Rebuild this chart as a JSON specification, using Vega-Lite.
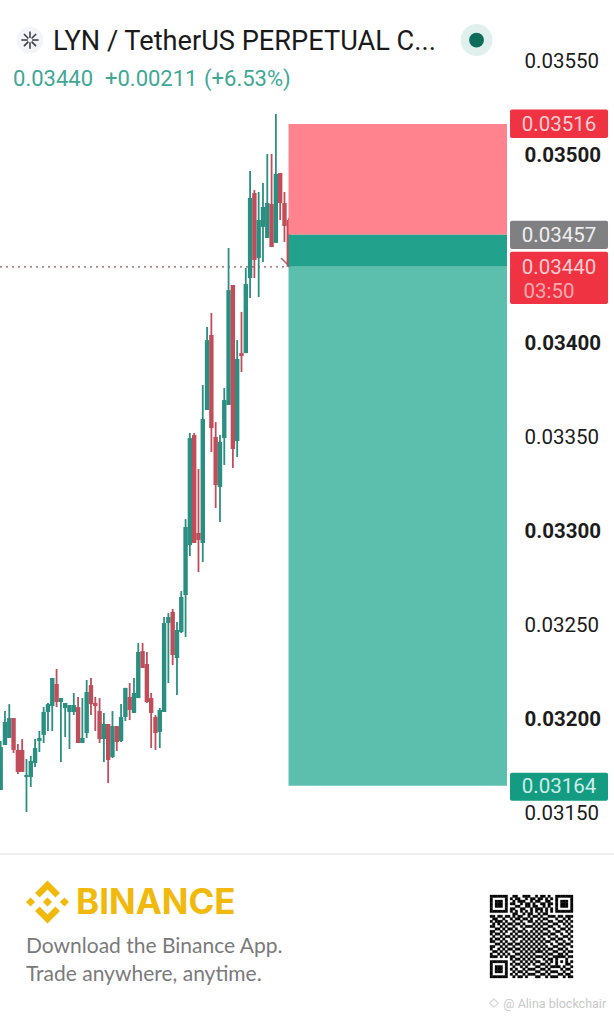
{
"$schema":"https://vega.github.io/schema/vega-lite/v6.json",
"width":614,"height":1019,"padding":0,"autosize":{"type":"none"},"background":"white",
"config":{"view":{"stroke":null}},
"datasets":{"candles":[
{"t":0,"o":0.031617,"h":0.031878,"l":0.031617,"c":0.031846,"dir":"up"},
{"t":1,"o":0.031856,"h":0.032037,"l":0.031856,"c":0.031979,"dir":"up"},
{"t":2,"o":0.031894,"h":0.032074,"l":0.031894,"c":0.032000,"dir":"up"},
{"t":3,"o":0.032000,"h":0.032000,"l":0.031814,"c":0.031830,"dir":"down"},
{"t":4,"o":0.031830,"h":0.031862,"l":0.031702,"c":0.031713,"dir":"down"},
{"t":5,"o":0.031830,"h":0.031888,"l":0.031713,"c":0.031713,"dir":"down"},
{"t":6,"o":0.031686,"h":0.031782,"l":0.031500,"c":0.031697,"dir":"up"},
{"t":7,"o":0.031686,"h":0.031798,"l":0.031633,"c":0.031771,"dir":"up"},
{"t":8,"o":0.031761,"h":0.031888,"l":0.031739,"c":0.031840,"dir":"up"},
{"t":9,"o":0.031878,"h":0.031931,"l":0.031819,"c":0.031894,"dir":"up"},
{"t":10,"o":0.031910,"h":0.032058,"l":0.031867,"c":0.032032,"dir":"up"},
{"t":11,"o":0.032032,"h":0.032080,"l":0.031931,"c":0.032074,"dir":"up"},
{"t":12,"o":0.032064,"h":0.032213,"l":0.031931,"c":0.032213,"dir":"up"},
{"t":13,"o":0.032181,"h":0.032261,"l":0.032058,"c":0.032085,"dir":"down"},
{"t":14,"o":0.032085,"h":0.032106,"l":0.031766,"c":0.032106,"dir":"up"},
{"t":15,"o":0.032053,"h":0.032080,"l":0.031899,"c":0.032080,"dir":"up"},
{"t":16,"o":0.032032,"h":0.032069,"l":0.031835,"c":0.032069,"dir":"up"},
{"t":17,"o":0.032032,"h":0.032133,"l":0.032016,"c":0.032069,"dir":"up"},
{"t":18,"o":0.032058,"h":0.032112,"l":0.031867,"c":0.031867,"dir":"down"},
{"t":19,"o":0.031867,"h":0.032106,"l":0.031867,"c":0.031894,"dir":"up"},
{"t":20,"o":0.031920,"h":0.032202,"l":0.031894,"c":0.032138,"dir":"up"},
{"t":21,"o":0.032175,"h":0.032213,"l":0.032016,"c":0.032074,"dir":"down"},
{"t":22,"o":0.032080,"h":0.032112,"l":0.031931,"c":0.032064,"dir":"down"},
{"t":23,"o":0.032037,"h":0.032106,"l":0.031867,"c":0.031888,"dir":"down"},
{"t":24,"o":0.031888,"h":0.032027,"l":0.031766,"c":0.031968,"dir":"up"},
{"t":25,"o":0.031968,"h":0.031968,"l":0.031654,"c":0.031777,"dir":"down"},
{"t":26,"o":0.031793,"h":0.032037,"l":0.031787,"c":0.031957,"dir":"up"},
{"t":27,"o":0.031957,"h":0.031957,"l":0.031825,"c":0.031872,"dir":"down"},
{"t":28,"o":0.031878,"h":0.032074,"l":0.031872,"c":0.032005,"dir":"up"},
{"t":29,"o":0.032005,"h":0.032160,"l":0.031984,"c":0.032160,"dir":"up"},
{"t":30,"o":0.032112,"h":0.032186,"l":0.031989,"c":0.032043,"dir":"down"},
{"t":31,"o":0.032027,"h":0.032213,"l":0.032027,"c":0.032133,"dir":"up"},
{"t":32,"o":0.032106,"h":0.032399,"l":0.032106,"c":0.032351,"dir":"up"},
{"t":33,"o":0.032356,"h":0.032399,"l":0.032266,"c":0.032266,"dir":"down"},
{"t":34,"o":0.032287,"h":0.032351,"l":0.032080,"c":0.032085,"dir":"down"},
{"t":35,"o":0.032106,"h":0.032133,"l":0.031840,"c":0.032027,"dir":"down"},
{"t":36,"o":0.032005,"h":0.032016,"l":0.031830,"c":0.031920,"dir":"down"},
{"t":37,"o":0.031926,"h":0.032053,"l":0.031840,"c":0.032043,"dir":"up"},
{"t":38,"o":0.032032,"h":0.032537,"l":0.032032,"c":0.032505,"dir":"up"},
{"t":39,"o":0.032505,"h":0.032558,"l":0.032186,"c":0.032537,"dir":"up"},
{"t":40,"o":0.032564,"h":0.032580,"l":0.032282,"c":0.032335,"dir":"down"},
{"t":41,"o":0.032319,"h":0.032511,"l":0.032122,"c":0.032468,"dir":"up"},
{"t":42,"o":0.032457,"h":0.032675,"l":0.032452,"c":0.032644,"dir":"up"},
{"t":43,"o":0.032654,"h":0.033058,"l":0.032431,"c":0.033016,"dir":"up"},
{"t":44,"o":0.032920,"h":0.033516,"l":0.032862,"c":0.033489,"dir":"up"},
{"t":45,"o":0.033505,"h":0.033516,"l":0.032931,"c":0.032931,"dir":"down"},
{"t":46,"o":0.032984,"h":0.033324,"l":0.032776,"c":0.032947,"dir":"down"},
{"t":47,"o":0.032931,"h":0.033771,"l":0.032830,"c":0.033590,"dir":"up"},
{"t":48,"o":0.033638,"h":0.034080,"l":0.033638,"c":0.034010,"dir":"up"},
{"t":49,"o":0.034037,"h":0.034154,"l":0.033415,"c":0.033542,"dir":"down"},
{"t":50,"o":0.033495,"h":0.033574,"l":0.033117,"c":0.033239,"dir":"down"},
{"t":51,"o":0.033229,"h":0.033505,"l":0.033042,"c":0.033468,"dir":"up"},
{"t":52,"o":0.033489,"h":0.033755,"l":0.033346,"c":0.033691,"dir":"up"},
{"t":53,"o":0.033665,"h":0.034500,"l":0.033665,"c":0.034276,"dir":"up"},
{"t":54,"o":0.034303,"h":0.034303,"l":0.033330,"c":0.033431,"dir":"down"},
{"t":55,"o":0.033473,"h":0.034010,"l":0.033388,"c":0.033910,"dir":"up"},
{"t":56,"o":0.033941,"h":0.034160,"l":0.033840,"c":0.033925,"dir":"down"},
{"t":57,"o":0.033941,"h":0.034394,"l":0.033941,"c":0.034308,"dir":"up"},
{"t":58,"o":0.034340,"h":0.034910,"l":0.034234,"c":0.034766,"dir":"up"},
{"t":59,"o":0.034792,"h":0.034808,"l":0.034340,"c":0.034436,"dir":"down"},
{"t":60,"o":0.034447,"h":0.034798,"l":0.034239,"c":0.034649,"dir":"up"},
{"t":61,"o":0.034612,"h":0.034846,"l":0.034425,"c":0.034718,"dir":"up"},
{"t":62,"o":0.034553,"h":0.035000,"l":0.034553,"c":0.034739,"dir":"up"},
{"t":63,"o":0.034734,"h":0.035000,"l":0.034505,"c":0.034505,"dir":"down"},
{"t":64,"o":0.034527,"h":0.035213,"l":0.034527,"c":0.034894,"dir":"up"},
{"t":65,"o":0.034899,"h":0.034899,"l":0.034649,"c":0.034739,"dir":"down"},
{"t":66,"o":0.034739,"h":0.034798,"l":0.034532,"c":0.034617,"dir":"down"},
{"t":67,"o":0.034649,"h":0.034660,"l":0.034400,"c":0.034400,"dir":"down"}
]},
"layer":[
{"encoding":{
 "x":{"field":"t","type":"quantitative","scale":{"domain":[-0.156,142.63],"nice":false,"zero":false},"axis":null},
 "y":{"field":"p","type":"quantitative","scale":{"domain":[0.030399,0.035819],"nice":false,"zero":false},
  "axis":{"orient":"right","offset":-90,"title":null,"grid":false,"domain":false,"ticks":false,"labelPadding":0,"labelAlign":"left","labelBaseline":"middle","labelFont":"Roboto","labelFontSize":20.5,"labelColor":"#1c1c1c","labelOverlap":false,"labelBound":false,"labelFlush":false,"labelOffset":1.5,"format":".5f","values":[0.0355,0.035,0.034,0.0335,0.033,0.0325,0.032,0.0315],"labelFontWeight":{"expr":"indexof([0.035,0.034,0.033,0.032],datum.value)>=0?'bold':'normal'"}}}},
 "layer":[
 {"data":{"values":[{"t":-0.156,"t2":66.94,"p":0.0344}]},"mark":{"type":"rule","color":"#8f5a62","strokeWidth":1.2,"strokeDash":[2,4]},"encoding":{"x2":{"field":"t2"}}},
 {"data":{"values":[{"t":65.2,"p":0.034447},{"t":66.6,"p":0.034415}]},"mark":{"type":"line","color":"#b5606a","strokeWidth":1.5}},
 {"data":{"name":"candles"},"mark":{"type":"rule","strokeWidth":1.8},"encoding":{"y":{"field":"h","type":"quantitative"},"y2":{"field":"l"},"color":{"field":"dir","type":"nominal","legend":null,"scale":{"domain":["up","down"],"range":["#2a8f80","#c24d5a"]}}}},
 {"data":{"name":"candles"},"mark":{"type":"rule","strokeWidth":4.4},"encoding":{"y":{"field":"o","type":"quantitative"},"y2":{"field":"c"},"color":{"field":"dir","type":"nominal","legend":null,"scale":{"domain":["up","down"],"range":["#23917f","#cb3f4e"]}}}},
 {"data":{"values":[{"t":66.94,"t2":117.75,"p":0.03516,"p2":0.03457}]},"mark":{"type":"rect","fill":"#fe838e"},"encoding":{"x2":{"field":"t2"},"y2":{"field":"p2"}}},
 {"data":{"values":[{"t":66.94,"t2":117.75,"p":0.03457,"p2":0.0344}]},"mark":{"type":"rect","fill":"#22a28d"},"encoding":{"x2":{"field":"t2"},"y2":{"field":"p2"}}},
 {"data":{"values":[{"t":66.94,"t2":117.75,"p":0.0344,"p2":0.03164}]},"mark":{"type":"rect","fill":"#5cbfae"},"encoding":{"x2":{"field":"t2"},"y2":{"field":"p2"}}},
 {"data":{"values":[{"t":118.45,"t2":141.24,"p":0.035237,"p2":0.035085}]},"mark":{"type":"rect","fill":"#ef3342","cornerRadius":2},"encoding":{"x2":{"field":"t2"},"y2":{"field":"p2"}}},
 {"data":{"values":[{"t":118.45,"t2":141.24,"p":0.034645,"p2":0.034495}]},"mark":{"type":"rect","fill":"#808083","cornerRadius":2},"encoding":{"x2":{"field":"t2"},"y2":{"field":"p2"}}},
 {"data":{"values":[{"t":118.45,"t2":141.24,"p":0.03448,"p2":0.034202}]},"mark":{"type":"rect","fill":"#ef3342","cornerRadius":2},"encoding":{"x2":{"field":"t2"},"y2":{"field":"p2"}}},
 {"data":{"values":[{"t":118.45,"t2":141.24,"p":0.031709,"p2":0.03156}]},"mark":{"type":"rect","fill":"#139c82","cornerRadius":2},"encoding":{"x2":{"field":"t2"},"y2":{"field":"p2"}}},
 {"data":{"values":[{"t":129.84,"p":0.03516,"label":"0.03516"},{"t":129.84,"p":0.0344,"label":"0.03440"}]},"mark":{"type":"text","font":"Roboto","fontSize":20.5,"dy":1,"color":"#fbcdd1"},"encoding":{"text":{"field":"label"}}},
 {"data":{"values":[{"t":129.84,"p":0.034271,"label":"03:50"}]},"mark":{"type":"text","font":"Roboto","fontSize":20.5,"dy":1,"color":"#fba9b0","align":"center","dx":-10},"encoding":{"text":{"field":"label"}}},
 {"data":{"values":[{"t":129.84,"p":0.03457,"label":"0.03457"}]},"mark":{"type":"text","font":"Roboto","fontSize":20.5,"dy":1,"color":"#efefef"},"encoding":{"text":{"field":"label"}}},
 {"data":{"values":[{"t":129.84,"p":0.03164,"label":"0.03164"}]},"mark":{"type":"text","font":"Roboto","fontSize":20.5,"dy":1,"color":"#cdeee7"},"encoding":{"text":{"field":"label"}}},
 {"data":{"values":[{"t":6.82,"p":0.035606}]},"mark":{"type":"point","shape":"circle","filled":true,"size":707,"color":"#f3f3fa","opacity":1}},
 {"data":{"values":[{"t":6.82,"p":0.035606}]},"mark":{"type":"point","filled":false,"size":300,"stroke":"#3a3a3a","strokeWidth":1.5,"opacity":1,"shape":"M0 -1L0 -.25M0 1L0 .25M-1 0L-.25 0M1 0L.25 0M-.7 -.7L-.18 -.18M.7 .7L.18 .18M-.7 .7L-.18 .18M.7 -.7L.18 -.18"}},
 {"data":{"values":[{"t":12.17,"p":0.035601,"label":"LYN / TetherUS PERPETUAL C..."}]},"mark":{"type":"text","font":"Roboto","fontSize":27.2,"dy":1,"align":"left","color":"#1a1a1a"},"encoding":{"text":{"field":"label"}}},
 {"data":{"values":[{"t":2.87,"p":0.035404,"label":"0.03440"},{"t":24.26,"p":0.035404,"label":"+0.00211"},{"t":47.29,"p":0.035404,"label":"(+6.53%)"}]},"mark":{"type":"text","font":"Roboto","fontSize":22,"dy":1,"align":"left","color":"#3ea895"},"encoding":{"text":{"field":"label"}}},
 {"data":{"values":[{"t":110.66,"p":0.035606}]},"mark":{"type":"point","shape":"circle","filled":true,"size":1018,"color":"#dff0ed","opacity":1}},
 {"data":{"values":[{"t":110.66,"p":0.035606}]},"mark":{"type":"point","shape":"circle","filled":true,"size":220,"color":"#0d6b5a","opacity":1}},
 {"data":{"values":[{"t":-0.156,"t2":142.63,"p":0.031277}]},"mark":{"type":"rule","color":"#e9e9e9","strokeWidth":1.5},"encoding":{"x2":{"field":"t2"}}},
 {"data":{"values":[{"t":10.89,"p":0.031021}]},"mark":{"type":"point","filled":true,"size":1849,"color":"#f0b90b","opacity":1,"shape":"M0 -1L.58 -.42L.37 -.21L0 -.58L-.37 -.21L-.58 -.42ZM0 1L.58 .42L.37 .21L0 .58L-.37 .21L-.58 .42ZM0 -.21L.21 0L0 .21L-.21 0ZM-.79 -.21L-.58 0L-.79 .21L-1 0ZM.79 -.21L1 0L.79 .21L.58 0Z"}},
 {"data":{"values":[{"t":17.52,"p":0.031021,"label":"BINANCE"}]},"mark":{"type":"text","font":"Inter","fontWeight":"bold","fontSize":35,"dy":1,"align":"left","color":"#f0b90b"},"encoding":{"text":{"field":"label"}}},
 {"data":{"values":[{"t":5.89,"p":0.030787,"label":"Download the Binance App."},{"t":5.89,"p":0.030638,"label":"Trade anywhere, anytime."}]},"mark":{"type":"text","font":"Lato","fontSize":21,"dy":1,"align":"left","color":"#7a7a7a"},"encoding":{"text":{"field":"label"}}},
 {"data":{"values":[{"t":114.7,"p":0.030484}]},"mark":{"type":"point","shape":"diamond","filled":false,"size":70,"stroke":"#d8d8d8","strokeWidth":1.2,"opacity":1}},
 {"data":{"values":[{"t":140.8,"p":0.030484,"label":"@ Alina blockchair"}]},"mark":{"type":"text","font":"Roboto","fontSize":12.5,"dy":1,"align":"right","color":"#c8c8c8"},"encoding":{"text":{"field":"label"}}}
 ]},
{"data":{"values":[
{"r":0,"c":[0,1,2,3,4,5,6,9,10,13,14,15,18,20,21,23,26,27,28,29,30,31,32]},
{"r":1,"c":[0,6,8,10,11,14,16,17,19,20,22,24,26,32]},
{"r":2,"c":[0,2,3,4,6,9,11,12,13,16,18,19,22,23,26,28,29,30,32]},
{"r":3,"c":[0,2,3,4,6,8,9,12,14,15,17,20,21,23,24,26,28,29,30,32]},
{"r":4,"c":[0,2,3,4,6,10,11,14,15,17,18,21,23,26,28,29,30,32]},
{"r":5,"c":[0,6,8,9,12,13,16,18,19,20,22,24,26,32]},
{"r":6,"c":[0,1,2,3,4,5,6,8,10,12,14,16,18,20,22,24,26,27,28,29,30,31,32]},
{"r":7,"c":[9,10,13,15,16,19,21,22]},
{"r":8,"c":[0,1,3,4,6,7,9,11,12,15,17,18,20,23,24,25,27,28,30,31,32]},
{"r":9,"c":[1,2,5,8,10,11,13,14,16,19,21,22,26,29,31]},
{"r":10,"c":[0,2,3,4,6,9,12,15,16,18,20,23,24,27,28,30,32]},
{"r":11,"c":[1,3,5,7,8,10,11,13,17,19,21,22,25,26,29,31]},
{"r":12,"c":[0,1,4,6,9,12,14,15,16,18,20,23,24,27,30,32]},
{"r":13,"c":[2,3,5,7,8,10,13,17,19,21,22,25,28,29,31]},
{"r":14,"c":[0,1,4,6,9,11,12,14,16,18,20,23,26,27,30,32]},
{"r":15,"c":[0,2,3,5,8,10,13,15,17,19,21,22,24,25,28,31]},
{"r":16,"c":[1,4,6,7,9,11,12,14,16,18,20,23,26,29,30,32]},
{"r":17,"c":[0,2,3,5,8,10,13,15,17,19,21,24,25,27,28,31]},
{"r":18,"c":[0,1,4,6,9,12,14,16,18,20,22,23,26,29,32]},
{"r":19,"c":[2,3,5,7,8,10,11,13,15,17,19,21,24,27,28,30,31]},
{"r":20,"c":[0,1,4,6,9,12,14,16,18,20,22,25,26,29,32]},
{"r":21,"c":[0,3,5,7,8,10,11,13,15,17,19,21,23,24,27,28,30]},
{"r":22,"c":[1,2,4,6,9,12,14,16,18,19,20,22,25,26,29,31,32]},
{"r":23,"c":[0,3,5,7,10,11,13,15,17,21,23,24,27,28,30]},
{"r":24,"c":[0,1,2,4,6,8,9,12,14,16,18,19,20,22,25,26,27,28,29,31,32]},
{"r":25,"c":[8,10,11,13,15,17,21,23,24,26,30]},
{"r":26,"c":[0,1,2,3,4,5,6,9,12,14,16,18,19,22,24,26,28,30,32]},
{"r":27,"c":[0,6,8,10,11,13,15,17,20,21,23,26,30,31]},
{"r":28,"c":[0,2,3,4,6,9,12,14,18,19,22,24,25,26,27,29,32]},
{"r":29,"c":[0,2,3,4,6,8,10,13,15,16,17,20,21,23,28,30,31]},
{"r":30,"c":[0,2,3,4,6,9,11,12,14,18,19,22,24,25,26,29,32]},
{"r":31,"c":[0,6,8,10,13,15,16,17,20,21,23,27,28,30,31]},
{"r":32,"c":[0,1,2,3,4,5,6,9,11,12,14,18,19,22,24,25,26,29,31,32]}
]},
"transform":[{"flatten":["c"]}],
"mark":{"type":"rect","fill":"#000000","stroke":"#000000","strokeWidth":0.3},
"encoding":{
 "x":{"field":"c","type":"ordinal","axis":null,"scale":{"type":"band","domain":[0,1,2,3,4,5,6,7,8,9,10,11,12,13,14,15,16,17,18,19,20,21,22,23,24,25,26,27,28,29,30,31,32],"range":[490,573],"paddingInner":0,"paddingOuter":0}},
 "y":{"field":"r","type":"ordinal","axis":null,"scale":{"type":"band","domain":[0,1,2,3,4,5,6,7,8,9,10,11,12,13,14,15,16,17,18,19,20,21,22,23,24,25,26,27,28,29,30,31,32],"range":[895,978],"paddingInner":0,"paddingOuter":0}}}}
],
"resolve":{"scale":{"x":"independent","y":"independent"}}
}
